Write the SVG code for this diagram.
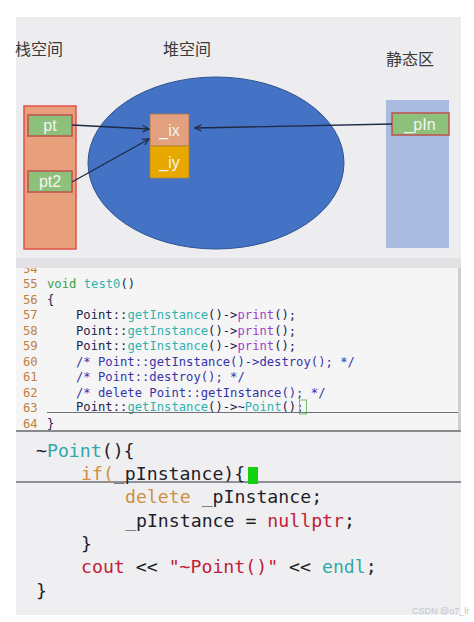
<svg xmlns="http://www.w3.org/2000/svg" width="474" height="622" viewBox="0 0 474 622">
<style>
.cjk{font-family:"Noto Sans CJK SC","Noto Sans",sans-serif;font-size:16px;fill:#3a3a3a}
.box{font-family:"Liberation Sans",Arial,sans-serif;font-size:16px;fill:#f4f4f4;text-anchor:middle;dominant-baseline:central}
.gbox{fill:#8dc07a;stroke:#c0504d;stroke-width:1.5}
.c1{font-family:"DejaVu Sans Mono",monospace;font-size:12.2px;fill:#22224a;white-space:pre}
.ln{fill:#c08040}
.kw{fill:#3aa04a}
.fn{fill:#2fb3b0}
.pr{fill:#a040c8}
.cm{fill:#3434a8}
.c2{font-family:"DejaVu Sans Mono",monospace;font-size:18.2px;fill:#1e1e2a;white-space:pre}
.or{fill:#d09040}
.rd{fill:#c0203a}
.tl{fill:#30a8a8}
.arr{stroke:#1f2a44;stroke-width:1.3;fill:none;marker-end:url(#ah)}
</style>
<defs>
<marker id="ah" viewBox="0 0 10 10" refX="9" refY="5" markerWidth="8" markerHeight="8" orient="auto" markerUnits="userSpaceOnUse">
<path d="M1,1 L9,5 L1,9" fill="none" stroke="#1f2a44" stroke-width="1.5"/>
</marker>
<clipPath id="cp"><rect x="16" y="268" width="442" height="164"/></clipPath>
</defs>
<rect width="474" height="622" fill="#ffffff"/>
<!-- top panel -->
<rect x="16" y="17" width="445" height="241" fill="#ededf0"/>
<text class="cjk" x="15" y="55">栈空间</text>
<text class="cjk" x="163" y="55">堆空间</text>
<text class="cjk" x="386" y="65">静态区</text>
<g id="stack"><rect x="24" y="106" width="52" height="143" fill="#e8a07c" stroke="#e05048" stroke-width="1.5"/></g>
<g id="heap"><ellipse cx="216" cy="163" rx="128" ry="86" fill="#4472c4" stroke="#2f528f" stroke-width="1"/></g>
<g id="static"><rect x="386" y="100" width="63" height="148" fill="#a9bbdf"/></g>
<g id="pt"><rect class="gbox" x="28" y="115" width="44" height="21"/><text class="box" x="50" y="125.5">pt</text></g>
<g id="pt2"><rect class="gbox" x="28" y="171" width="44" height="21"/><text class="box" x="50" y="181.5">pt2</text></g>
<g id="ix"><rect x="150" y="114" width="39" height="32" fill="#e2a07e" stroke="#b07050" stroke-width="0.8"/><text class="box" x="169.5" y="130">_ix</text></g>
<g id="iy"><rect x="150" y="146" width="39" height="32" fill="#e8a800" stroke="#b08030" stroke-width="0.8"/><text class="box" x="169.5" y="162">_iy</text></g>
<g id="pIn"><rect class="gbox" x="392" y="113" width="57" height="22"/><text class="box" x="420" y="124">_pIn</text></g>
<g id="connectors">
<line class="arr" x1="72" y1="125" x2="149" y2="129"/>
<line class="arr" x1="72" y1="182" x2="149" y2="139"/>
<line class="arr" x1="392" y1="124" x2="195" y2="128"/>
</g>
<!-- code panel 1 -->
<rect x="16" y="258" width="445" height="10" fill="#e2e2e4"/>
<rect x="16" y="268" width="445" height="164" fill="#e6e6e8"/>
<rect x="16" y="268" width="442" height="164" fill="#f5f5f6"/>
<rect x="458" y="268" width="3" height="164" fill="#cfcfd2"/>
<g clip-path="url(#cp)">
<text class="c1" x="23" y="272.5"><tspan class="ln">54</tspan></text>
<text class="c1" x="23" y="288"><tspan class="ln">55</tspan></text>
<text class="c1" x="47" y="288"><tspan class="kw">void</tspan> <tspan class="fn">test0</tspan>()</text>
<text class="c1" x="23" y="303.5"><tspan class="ln">56</tspan></text>
<text class="c1" x="47" y="303.5">{</text>
<text class="c1" x="23" y="319"><tspan class="ln">57</tspan></text>
<text class="c1" x="76" y="319">Point::<tspan class="fn">getInstance</tspan>()-&gt;<tspan class="pr">print</tspan>();</text>
<text class="c1" x="23" y="334.5"><tspan class="ln">58</tspan></text>
<text class="c1" x="76" y="334.5">Point::<tspan class="fn">getInstance</tspan>()-&gt;<tspan class="pr">print</tspan>();</text>
<text class="c1" x="23" y="350"><tspan class="ln">59</tspan></text>
<text class="c1" x="76" y="350">Point::<tspan class="fn">getInstance</tspan>()-&gt;<tspan class="pr">print</tspan>();</text>
<text class="c1" x="23" y="365.5"><tspan class="ln">60</tspan></text>
<text class="c1 cm" x="76" y="365.5">/* Point::getInstance()-&gt;destroy(); */</text>
<text class="c1" x="23" y="381"><tspan class="ln">61</tspan></text>
<text class="c1 cm" x="76" y="381">/* Point::destroy(); */</text>
<text class="c1" x="23" y="396.5"><tspan class="ln">62</tspan></text>
<text class="c1 cm" x="76" y="396.5">/* delete Point::getInstance(); */</text>
<text class="c1" x="23" y="412"><tspan class="ln">63</tspan></text>
<text class="c1" x="76" y="411">Point::<tspan class="fn">getInstance</tspan>()-&gt;~<tspan class="fn">Point</tspan>();</text>
<rect x="299.5" y="400" width="7" height="14" fill="none" stroke="#70c070" stroke-width="1"/>
<line x1="47" y1="412.5" x2="458" y2="412.5" stroke="#707074" stroke-width="1"/>
<text class="c1" x="23" y="427.5"><tspan class="ln">64</tspan></text>
<text class="c1" x="47" y="427.5">}</text>
</g>
<!-- code panel 2 -->
<rect x="16" y="432" width="445" height="183" fill="#efeff1"/>
<line x1="16" y1="431" x2="461" y2="431" stroke="#8a8a8e" stroke-width="2"/>
<line x1="16" y1="482" x2="461" y2="482" stroke="#707074" stroke-width="1.5"/>
<text class="c2" x="36" y="457">~<tspan class="tl">Point</tspan>(){</text>
<text class="c2" x="81" y="480"><tspan class="or">if(</tspan>_pInstance){</text>
<rect x="248" y="467" width="10" height="17" fill="#10d010"/>
<text class="c2" x="125" y="503"><tspan class="or">delete</tspan> _pInstance;</text>
<text class="c2" x="125" y="527">_pInstance = <tspan class="rd">nullptr</tspan>;</text>
<text class="c2" x="81" y="550">}</text>
<text class="c2" x="81" y="573"><tspan class="rd">cout</tspan> &lt;&lt; <tspan class="rd">"~Point()"</tspan> &lt;&lt; <tspan class="tl">endl</tspan>;</text>
<text class="c2" x="36" y="597">}</text>
<text x="412" y="614" font-family="Liberation Sans,Arial,sans-serif" font-size="9" fill="#c4c4c8">CSDN @o7_lr</text>
</svg>
